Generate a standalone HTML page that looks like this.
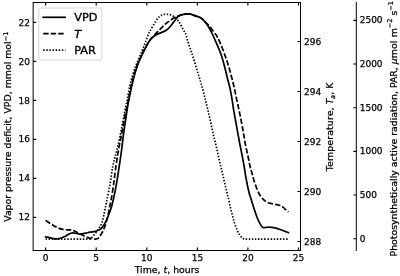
<!DOCTYPE html>
<html><head><meta charset="utf-8"><title>Figure</title>
<style>html,body{margin:0;padding:0;background:#fff}body{width:400px;height:276px;overflow:hidden}</style>
</head><body>
<svg width="400" height="276" viewBox="0 0 400 276" style="display:block">
<rect width="400" height="276" fill="#fff"/>
<g fill="none" stroke="#000" stroke-width="1.7" stroke-linejoin="round">
<path d="M45.60,236.90 C46.57,237.10 49.50,237.78 51.40,238.10 C53.30,238.42 55.23,238.85 57.00,238.80 C58.77,238.75 60.40,238.37 62.00,237.80 C63.60,237.23 64.98,236.20 66.60,235.40 C68.22,234.60 70.00,233.32 71.70,233.00 C73.40,232.68 75.32,233.32 76.80,233.50 C78.28,233.68 79.12,234.17 80.60,234.10 C82.08,234.03 84.13,233.42 85.70,233.10 C87.27,232.78 88.37,232.50 90.00,232.20 C91.63,231.90 94.08,231.62 95.50,231.30 C96.92,230.98 97.62,230.72 98.50,230.30 C99.38,229.88 99.98,229.55 100.80,228.80 C101.62,228.05 102.62,226.93 103.40,225.80 C104.18,224.67 104.77,223.47 105.50,222.00 C106.23,220.53 106.88,219.23 107.80,217.00 C108.72,214.77 110.10,211.43 111.00,208.60 C111.90,205.77 112.30,204.05 113.20,200.00 C114.10,195.95 115.40,189.88 116.40,184.30 C117.40,178.72 118.33,172.22 119.20,166.50 C120.07,160.78 120.88,155.37 121.60,150.00 C122.32,144.63 122.75,139.88 123.50,134.30 C124.25,128.72 125.22,122.22 126.10,116.50 C126.98,110.78 127.68,105.83 128.80,100.00 C129.92,94.17 131.40,87.12 132.80,81.50 C134.20,75.88 135.75,70.53 137.20,66.30 C138.65,62.07 140.05,59.28 141.50,56.10 C142.95,52.92 144.43,49.92 145.90,47.20 C147.37,44.48 148.73,41.80 150.30,39.80 C151.87,37.80 153.42,36.42 155.30,35.20 C157.18,33.98 159.72,33.37 161.60,32.50 C163.48,31.63 165.12,31.05 166.60,30.00 C168.08,28.95 169.22,27.67 170.50,26.20 C171.78,24.73 173.00,22.85 174.30,21.20 C175.60,19.55 176.77,17.45 178.30,16.30 C179.83,15.15 181.68,14.70 183.50,14.30 C185.32,13.90 187.45,13.72 189.20,13.90 C190.95,14.08 192.35,14.87 194.00,15.40 C195.65,15.93 197.62,16.40 199.10,17.10 C200.58,17.80 201.63,18.45 202.90,19.60 C204.17,20.75 205.43,22.20 206.70,24.00 C207.97,25.80 209.48,28.57 210.50,30.40 C211.52,32.23 211.85,32.97 212.80,35.00 C213.75,37.03 215.00,39.85 216.20,42.60 C217.40,45.35 218.95,48.75 220.00,51.50 C221.05,54.25 221.67,56.30 222.50,59.10 C223.33,61.90 224.18,65.12 225.00,68.30 C225.82,71.48 226.57,74.87 227.40,78.20 C228.23,81.53 229.22,84.72 230.00,88.30 C230.78,91.88 231.45,95.85 232.10,99.70 C232.75,103.55 233.22,107.33 233.90,111.40 C234.58,115.47 235.53,120.40 236.20,124.10 C236.87,127.80 237.28,130.22 237.90,133.60 C238.52,136.98 239.18,140.70 239.90,144.40 C240.62,148.10 241.50,152.20 242.20,155.80 C242.90,159.40 243.55,162.77 244.10,166.00 C244.65,169.23 244.95,171.98 245.50,175.20 C246.05,178.42 246.73,182.13 247.40,185.30 C248.07,188.47 248.87,191.87 249.50,194.20 C250.13,196.53 250.68,197.65 251.20,199.30 C251.72,200.95 251.92,201.92 252.60,204.10 C253.28,206.28 254.40,209.80 255.30,212.40 C256.20,215.00 257.10,217.62 258.00,219.70 C258.90,221.78 259.98,223.67 260.70,224.90 C261.42,226.13 261.85,226.63 262.30,227.10 C262.75,227.57 262.30,227.68 263.40,227.70 C264.50,227.72 266.98,227.18 268.90,227.20 C270.82,227.22 272.90,227.37 274.90,227.80 C276.90,228.23 279.23,229.23 280.90,229.80 C282.57,230.37 283.65,230.73 284.90,231.20 C286.15,231.67 287.82,232.37 288.40,232.60" stroke-linecap="square"/>
<path d="M45.60,220.40 C46.78,221.17 50.47,223.67 52.70,225.00 C54.93,226.33 56.88,227.62 59.00,228.40 C61.12,229.18 63.28,229.43 65.40,229.70 C67.52,229.97 69.80,229.58 71.70,230.00 C73.60,230.42 74.90,231.27 76.80,232.20 C78.70,233.13 80.97,234.62 83.10,235.60 C85.23,236.58 87.27,237.57 89.60,238.10 C91.93,238.63 95.10,239.58 97.10,238.80 C99.10,238.02 100.28,235.52 101.60,233.40 C102.92,231.28 103.97,228.95 105.00,226.10 C106.03,223.25 107.07,219.32 107.80,216.30 C108.53,213.28 108.85,210.72 109.40,208.00 C109.95,205.28 110.40,203.95 111.10,200.00 C111.80,196.05 112.80,189.88 113.60,184.30 C114.40,178.72 115.08,172.22 115.90,166.50 C116.72,160.78 117.55,155.37 118.50,150.00 C119.45,144.63 120.57,139.88 121.60,134.30 C122.63,128.72 123.58,122.22 124.70,116.50 C125.82,110.78 127.05,105.83 128.30,100.00 C129.55,94.17 130.78,87.12 132.20,81.50 C133.62,75.88 135.30,70.53 136.80,66.30 C138.30,62.07 139.72,59.28 141.20,56.10 C142.68,52.92 144.20,49.92 145.70,47.20 C147.20,44.48 148.62,41.97 150.20,39.80 C151.78,37.63 153.52,35.98 155.20,34.20 C156.88,32.42 158.60,30.80 160.30,29.10 C162.00,27.40 163.70,25.48 165.40,24.00 C167.10,22.52 168.82,21.35 170.50,20.20 C172.18,19.05 174.17,17.83 175.50,17.10 C176.83,16.37 177.17,16.27 178.50,15.80 C179.83,15.33 181.72,14.62 183.50,14.30 C185.28,13.98 187.45,13.72 189.20,13.90 C190.95,14.08 192.35,14.87 194.00,15.40 C195.65,15.93 197.62,16.43 199.10,17.10 C200.58,17.77 201.70,18.42 202.90,19.40 C204.10,20.38 205.23,21.92 206.30,23.00 C207.37,24.08 208.17,24.57 209.30,25.90 C210.43,27.23 211.95,29.48 213.10,31.00 C214.25,32.52 215.47,33.93 216.20,35.00 C216.93,36.07 216.87,36.13 217.50,37.40 C218.13,38.67 219.07,40.47 220.00,42.60 C220.93,44.73 222.05,47.45 223.10,50.20 C224.15,52.95 225.30,56.13 226.30,59.10 C227.30,62.07 228.17,64.82 229.10,68.00 C230.03,71.18 231.02,74.82 231.90,78.20 C232.78,81.58 233.58,84.67 234.40,88.30 C235.22,91.93 235.98,96.15 236.80,100.00 C237.62,103.85 238.50,107.60 239.30,111.40 C240.10,115.20 240.90,119.15 241.60,122.80 C242.30,126.45 242.87,129.70 243.50,133.30 C244.13,136.90 244.67,140.65 245.40,144.40 C246.13,148.15 247.13,152.20 247.90,155.80 C248.67,159.40 249.35,163.20 250.00,166.00 C250.65,168.80 251.08,170.02 251.80,172.60 C252.52,175.18 253.35,178.53 254.30,181.50 C255.25,184.47 256.42,187.90 257.50,190.40 C258.58,192.90 259.65,194.83 260.80,196.50 C261.95,198.17 263.28,199.40 264.40,200.40 C265.52,201.40 266.08,201.92 267.50,202.50 C268.92,203.08 271.17,203.50 272.90,203.90 C274.63,204.30 276.40,204.50 277.90,204.90 C279.40,205.30 280.73,205.63 281.90,206.30 C283.07,206.97 283.82,207.93 284.90,208.90 C285.98,209.87 287.82,211.57 288.40,212.10" stroke-dasharray="5.45 2.05"/>
<path d="M45.60,239.20 C48.00,239.20 54.27,239.20 60.00,239.20 C65.73,239.20 75.33,239.20 80.00,239.20 C84.67,239.20 86.28,239.22 88.00,239.20 C89.72,239.18 89.72,239.32 90.30,239.10 C90.88,238.88 91.10,238.33 91.50,237.90 C91.90,237.47 92.07,237.27 92.70,236.50 C93.33,235.73 94.45,234.37 95.30,233.30 C96.15,232.23 97.03,231.20 97.80,230.10 C98.57,229.00 99.30,227.77 99.90,226.70 C100.50,225.63 100.95,224.72 101.40,223.70 C101.85,222.68 102.20,221.97 102.60,220.60 C103.00,219.23 103.40,217.35 103.80,215.50 C104.20,213.65 104.58,211.58 105.00,209.50 C105.42,207.42 105.47,207.20 106.30,203.00 C107.13,198.80 108.92,190.38 110.00,184.30 C111.08,178.22 111.70,172.00 112.80,166.50 C113.90,161.00 115.33,156.67 116.60,151.30 C117.87,145.93 119.20,140.10 120.40,134.30 C121.60,128.50 122.67,122.22 123.80,116.50 C124.93,110.78 126.08,105.62 127.20,100.00 C128.32,94.38 129.10,88.42 130.50,82.80 C131.90,77.18 134.12,70.53 135.60,66.30 C137.08,62.07 138.33,59.95 139.40,57.40 C140.47,54.85 141.15,53.12 142.00,51.00 C142.85,48.88 143.77,46.60 144.50,44.70 C145.23,42.80 145.72,41.40 146.40,39.60 C147.08,37.80 148.02,35.33 148.60,33.90 C149.18,32.47 149.15,32.35 149.90,31.00 C150.65,29.65 152.08,27.48 153.10,25.80 C154.12,24.12 154.93,22.45 156.00,20.90 C157.07,19.35 158.25,17.57 159.50,16.50 C160.75,15.43 162.20,14.87 163.50,14.50 C164.80,14.13 166.03,14.22 167.30,14.30 C168.57,14.38 169.83,14.50 171.10,15.00 C172.37,15.50 173.67,16.27 174.90,17.30 C176.13,18.33 177.43,19.75 178.50,21.20 C179.57,22.65 180.30,24.20 181.30,26.00 C182.30,27.80 183.70,30.50 184.50,32.00 C185.30,33.50 185.48,33.23 186.10,35.00 C186.72,36.77 187.42,40.07 188.20,42.60 C188.98,45.13 189.95,47.67 190.80,50.20 C191.65,52.73 192.32,54.67 193.30,57.80 C194.28,60.93 195.67,65.60 196.70,69.00 C197.73,72.40 198.60,75.20 199.50,78.20 C200.40,81.20 201.25,83.93 202.10,87.00 C202.95,90.07 203.97,94.13 204.60,96.60 C205.23,99.07 205.30,99.33 205.90,101.80 C206.50,104.27 207.38,107.90 208.20,111.40 C209.02,114.90 209.97,119.03 210.80,122.80 C211.63,126.57 212.37,130.40 213.20,134.00 C214.03,137.60 214.95,140.77 215.80,144.40 C216.65,148.03 217.47,152.12 218.30,155.80 C219.13,159.48 220.03,163.27 220.80,166.50 C221.57,169.73 222.17,172.07 222.90,175.20 C223.63,178.33 224.40,181.92 225.20,185.30 C226.00,188.68 227.17,193.47 227.70,195.50 C228.23,197.53 228.02,195.77 228.40,197.50 C228.78,199.23 229.35,203.00 230.00,205.90 C230.65,208.80 231.55,212.03 232.30,214.90 C233.05,217.77 233.68,220.53 234.50,223.10 C235.32,225.67 236.35,228.33 237.20,230.30 C238.05,232.27 238.70,233.60 239.60,234.90 C240.50,236.20 241.70,237.40 242.60,238.10 C243.50,238.80 244.18,238.92 245.00,239.10 C245.82,239.28 246.33,239.18 247.50,239.20 C248.67,239.22 249.92,239.20 252.00,239.20 C254.08,239.20 256.17,239.20 260.00,239.20 C263.83,239.20 270.27,239.20 275.00,239.20 C279.73,239.20 286.17,239.20 288.40,239.20" stroke-dasharray="1.45 1.65"/>
</g>
<g fill="none" stroke="#000" stroke-width="1.0">
<rect x="33.15" y="2.5" width="267.35" height="248.0"/>
<path d="M356.3,2.0 V251.0"/>
<path d="M45.6,250.5 v-3.0 M45.6,2.5 v3.0 M96.2,250.5 v-3.0 M96.2,2.5 v3.0 M146.8,250.5 v-3.0 M146.8,2.5 v3.0 M197.4,250.5 v-3.0 M197.4,2.5 v3.0 M247.9,250.5 v-3.0 M247.9,2.5 v3.0 M298.5,250.5 v-3.0 M298.5,2.5 v3.0 M33.15,217.3 h3.0 M33.15,178.3 h3.0 M33.15,139.3 h3.0 M33.15,100.4 h3.0 M33.15,61.4 h3.0 M33.15,22.4 h3.0 M300.5,241.5 h-3.0 M300.5,191.5 h-3.0 M300.5,141.5 h-3.0 M300.5,91.5 h-3.0 M300.5,41.5 h-3.0 M356.3,238.7 h-3.0 M356.3,195.0 h-3.0 M356.3,151.3 h-3.0 M356.3,107.7 h-3.0 M356.3,64.0 h-3.0 M356.3,20.3 h-3.0" stroke-width="1.15"/>
</g>
<g font-family="'DejaVu Sans', 'Liberation Sans', sans-serif" fill="#000" stroke="#000" stroke-width="0.25" font-size="9.0">
<text x="45.6" y="260.6" text-anchor="middle">0</text>
<text x="96.2" y="260.6" text-anchor="middle">5</text>
<text x="146.8" y="260.6" text-anchor="middle">10</text>
<text x="197.4" y="260.6" text-anchor="middle">15</text>
<text x="247.9" y="260.6" text-anchor="middle">20</text>
<text x="298.5" y="260.6" text-anchor="middle">25</text>
<text x="29.9" y="220.4" text-anchor="end">12</text>
<text x="29.9" y="181.4" text-anchor="end">14</text>
<text x="29.9" y="142.4" text-anchor="end">16</text>
<text x="29.9" y="103.5" text-anchor="end">18</text>
<text x="29.9" y="64.5" text-anchor="end">20</text>
<text x="29.9" y="25.5" text-anchor="end">22</text>
<text x="304" y="244.5">288</text>
<text x="304" y="194.5">290</text>
<text x="304" y="144.5">292</text>
<text x="304" y="94.5">294</text>
<text x="304" y="44.5">296</text>
<text x="359.7" y="241.7">0</text>
<text x="359.7" y="198.0">500</text>
<text x="359.7" y="154.3">1000</text>
<text x="359.7" y="110.7">1500</text>
<text x="359.7" y="67.0">2000</text>
<text x="359.7" y="23.3">2500</text>
</g>
<g font-family="'DejaVu Sans', 'Liberation Sans', sans-serif" fill="#000" stroke="#000" stroke-width="0.25" font-size="9.37">
<text id="xl" x="167.1" y="272.7" text-anchor="middle">Time, <tspan font-style="italic">t</tspan>, hours</text>
<text id="yl" transform="translate(11.0,126.75) rotate(-90)" text-anchor="middle">Vapor pressure deficit, VPD, mmol mol<tspan font-size="6.56" dy="-3.3">−1</tspan></text>
<text id="tl" transform="translate(333,126.95) rotate(-90)" text-anchor="middle"><tspan letter-spacing="0.137">Temperature, </tspan><tspan font-style="italic" dx="-0.18">T</tspan><tspan font-size="6.37" font-style="italic" dy="1.7" dx="-0.5">a</tspan><tspan dy="-1.7" dx="0.4">, K</tspan></text>
<text id="pl" transform="translate(396.6,128.75) rotate(-90)" text-anchor="middle">Photosynthetically active radiation, PAR, <tspan font-style="italic">μ</tspan>mol<tspan dx="0.5"> m</tspan><tspan font-size="6.56" dy="-4.6">−2</tspan><tspan dy="4.6"> s</tspan><tspan font-size="6.56" dy="-3.3">−1</tspan></text>
</g>
<rect x="38.8" y="8" width="63" height="52" rx="1.8" ry="1.8" fill="#fff" fill-opacity="0.8" stroke="#d4d4d4" stroke-width="1"/>
<g fill="none" stroke="#000" stroke-width="1.7">
<path d="M43.2,17.3 H65.1" stroke-linecap="square"/>
<path d="M43.2,33.6 H65.4" stroke-dasharray="5.45 2.05"/>
<path d="M43.2,50.1 H65.4" stroke-dasharray="1.45 1.65"/>
</g>
<g font-family="'DejaVu Sans', 'Liberation Sans', sans-serif" fill="#000" stroke="#000" stroke-width="0.35" font-size="11.3">
<text x="74.2" y="21.4">VPD</text>
<text x="74.3" y="37.7" font-style="italic">T</text>
<text x="74.2" y="54.2">PAR</text>
</g>
</svg>
</body></html>
